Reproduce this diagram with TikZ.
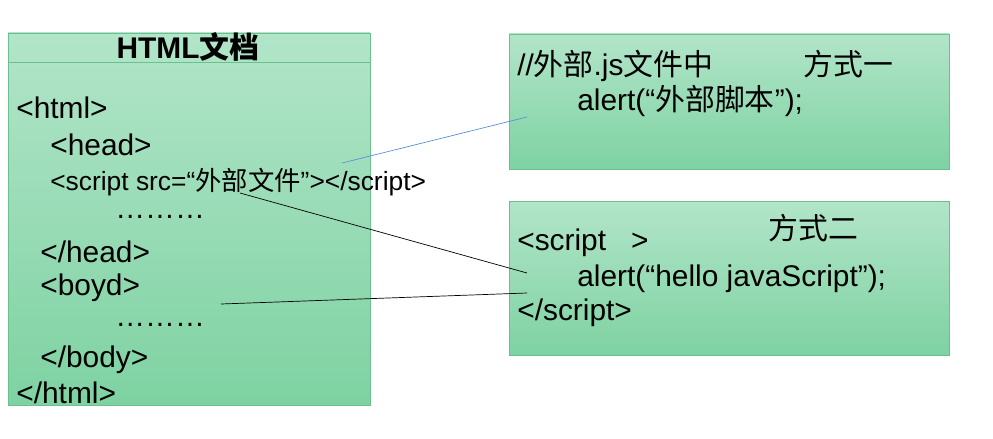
\documentclass[tikz,border=0pt]{standalone}
\usepackage{fontspec}
\setmainfont{Liberation Sans}
\newfontfamily\cjk{Noto Sans CJK SC}
\definecolor{gtop}{HTML}{B2E5C9}
\definecolor{gbot}{HTML}{7ED2A2}
\definecolor{gline}{HTML}{6CC08E}
\definecolor{lnblue}{HTML}{5B8FD6}
\begin{document}
\begin{tikzpicture}[x=0.02cm,y=-0.02cm,
  panel/.style={draw=gline,top color=gtop,bottom color=gbot},
  txt/.style={anchor=west,inner sep=0pt,font=\fontsize{17}{20}\selectfont},
  stxt/.style={anchor=west,inner sep=0pt,font=\fontsize{15}{18}\selectfont}]
\useasboundingbox (0,0) rectangle (993,439);
\draw[panel] (8,33) rectangle (370,405);
\draw[gline] (8,62) -- (370,62);
\node[inner sep=0pt,font=\fontsize{17}{20}\selectfont\bfseries] (title) at (188,47) {HTML{\cjk 文档}};
\draw[panel] (509,34) rectangle (949,169);
\draw[panel] (509,201) rectangle (949,355);

\node[txt] (h1) at (16,108) {<html>};
\node[txt] (h2) at (50,145) {<head>};
\node[stxt] (h3) at (50,182) {<script src=“{\cjk 外部文件}”></script>};
\node[txt] (h4) at (115,217) {………};
\node[txt] (h5) at (40,252) {</head>};
\node[txt] (h6) at (40,288) {<boyd>};
\node[txt] (h7) at (115,325) {………};
\node[txt] (h8) at (40,360) {</body>};
\node[txt] (h9) at (16,393) {</html>};

\node[txt] (r1) at (517,66) {//{\cjk 外部}.js{\cjk 文件中}};
\node[txt] (r2) at (577,101) {alert(“{\cjk 外部脚本}”);};
\node[txt] (m1) at (803,64) {\cjk 方式一};

\node[txt] (s1) at (517,243) {<script \ \ >};
\node[txt] (s2) at (577,279) {alert(“hello javaScript”);};
\node[txt] (s3) at (517,313) {</script>};
\node[txt] (m2) at (768,228) {\cjk 方式二};

\coordinate (a1) at (342,163); \coordinate (a2) at (527,117);
\coordinate (b1) at (240,193); \coordinate (b2) at (527,273);
\coordinate (c1) at (221,304); \coordinate (c2) at (527,293);
\draw[lnblue] (a1) -- (a2);
\draw (b1) -- (b2);
\draw (c1) -- (c2);
\end{tikzpicture}
\end{document}
